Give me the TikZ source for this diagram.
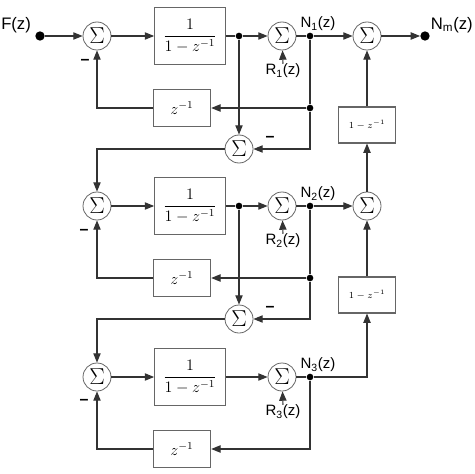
\documentclass[tikz,border=0pt]{standalone}
\usepackage[no-math]{fontspec}
\usepackage{amsmath}
\newfontfamily\lblfont{Liberation Sans}
\usetikzlibrary{arrows.meta, positioning}

\begin{document}
\begin{tikzpicture}[x=0.75pt,y=0.75pt,yscale=-1,xscale=1,
  line/.style={draw=black!80, line width=0.8pt},
  arr/.style={line, -{Triangle[length=7pt,width=5.5pt]}},
  sumnode/.style={circle, draw=black!60, line width=0.6pt, minimum size=21pt, inner sep=0pt, font=\fontsize{16}{16}\selectfont},
  fracbox/.style={rectangle, draw=black!60, line width=0.8pt, minimum width=53pt, minimum height=43pt, inner sep=0pt, font=\fontsize{12}{14}\selectfont},
  delaybox/.style={rectangle, draw=black!60, line width=0.8pt, minimum width=43pt, minimum height=28pt, inner sep=0pt, font=\fontsize{12}{14}\selectfont},
  diffbox/.style={rectangle, draw=black!60, line width=0.8pt, minimum width=43pt, minimum height=27pt, inner sep=0pt, font=\fontsize{7.5}{9}\selectfont},
  junc/.style={circle, fill=black, inner sep=0pt, minimum size=5pt},
  bigdot/.style={circle, fill=black, inner sep=0pt, minimum size=7pt},
  lbl/.style={font=\lblfont\fontsize{11.25}{13}\selectfont, inner sep=0pt},
  iolbl/.style={font=\lblfont\fontsize{12.5}{15}\selectfont, inner sep=0pt},
  minus/.style={font=\lblfont\bfseries\fontsize{12}{12}\selectfont, inner sep=0pt}
]
\useasboundingbox (0,0) rectangle (474,474);

%Input and output
\node [bigdot] (fin) at (40,36) {};
\node [bigdot] (fout) at (425,36) {};
\node [iolbl, anchor=west] (finlbl) at (1,25) {F(z)};
\node [iolbl, anchor=east] (foutlbl) at (473,25) {N\textsubscript{m}(z)};

%Stage 1
\node [sumnode] (s1) at (97,36) {$\Sigma$};
\node [fracbox] (b1) at (190,36) {$\dfrac{1}{1-z^{-1}}$};
\node [junc] (br1) at (239,36) {};
\node [sumnode] (rs1) at (282,36) {$\Sigma$};
\node [junc] (n1) at (310,36) {};
\node [junc] (fd1) at (310,108) {};
\node [delaybox] (d1) at (182,108) {$z^{-1}$};
\node [sumnode] (ms1) at (239,149) {$\Sigma$};
\node [lbl] (n1lbl) at (318,24) {N\textsubscript{1}(z)};
\node [lbl] (r1lbl) at (283,71) {R\textsubscript{1}(z)};

%Stage 2
\node [sumnode] (s2) at (97,206) {$\Sigma$};
\node [fracbox] (b2) at (190,206) {$\dfrac{1}{1-z^{-1}}$};
\node [junc] (br2) at (239,206) {};
\node [sumnode] (rs2) at (282,206) {$\Sigma$};
\node [junc] (n2) at (310,206) {};
\node [junc] (fd2) at (310,278) {};
\node [delaybox] (d2) at (182,278) {$z^{-1}$};
\node [sumnode] (ms2) at (239,319) {$\Sigma$};
\node [lbl] (n2lbl) at (318,194) {N\textsubscript{2}(z)};
\node [lbl] (r2lbl) at (283,241) {R\textsubscript{2}(z)};

%Stage 3
\node [sumnode] (s3) at (97,377) {$\Sigma$};
\node [fracbox] (b3) at (190,377) {$\dfrac{1}{1-z^{-1}}$};
\node [sumnode] (rs3) at (282,377) {$\Sigma$};
\node [junc] (n3) at (310,377) {};
\node [delaybox] (d3) at (182,449) {$z^{-1}$};
\node [lbl] (n3lbl) at (318,365) {N\textsubscript{3}(z)};
\node [lbl] (r3lbl) at (283,412) {R\textsubscript{3}(z)};

%Output chain
\node [sumnode] (os1) at (367,36) {$\Sigma$};
\node [sumnode] (os2) at (367,206) {$\Sigma$};
\node [diffbox] (ub) at (367,125) {$1-z^{-1}$};
\node [diffbox] (lb) at (367,295) {$1-z^{-1}$};

%Minus signs
\node [minus] (m1) at (85,62) {\textendash};
\node [minus] (m2) at (84,232) {\textendash};
\node [minus] (m3) at (84,402) {\textendash};
\node [minus] (mm1) at (270,139) {\textendash};
\node [minus] (mm2) at (270,309) {\textendash};

%Connections stage 1
\draw [arr] (fin) -- (s1);
\draw [arr] (s1) -- (b1);
\draw [line] (b1) -- (br1);
\draw [arr] (br1) -- (rs1);
\draw [line] (rs1) -- (n1);
\draw [arr] (n1) -- (os1);
\draw [arr] (os1) -- (fout);
\draw [arr] (r1lbl.north) -- (rs1);
\draw [line] (n1) -- (fd1);
\draw [arr] (fd1) -- (d1);
\draw [arr] (d1.west) -| (s1.south);
\draw [arr] (br1) -- (ms1);
\draw [arr] (fd1) |- (ms1.east);
\draw [arr] (ms1.west) -| (s2.north);

%Connections stage 2
\draw [arr] (s2) -- (b2);
\draw [line] (b2) -- (br2);
\draw [arr] (br2) -- (rs2);
\draw [line] (rs2) -- (n2);
\draw [arr] (n2) -- (os2);
\draw [arr] (r2lbl.north) -- (rs2);
\draw [line] (n2) -- (fd2);
\draw [arr] (fd2) -- (d2);
\draw [arr] (d2.west) -| (s2.south);
\draw [arr] (br2) -- (ms2);
\draw [arr] (fd2) |- (ms2.east);
\draw [arr] (ms2.west) -| (s3.north);

%Connections stage 3
\draw [arr] (s3) -- (b3);
\draw [arr] (b3) -- (rs3);
\draw [line] (rs3) -- (n3);
\draw [arr] (r3lbl.north) -- (rs3);
\draw [arr] (n3) |- (d3.east);
\draw [arr] (d3.west) -| (s3.south);

%Output chain
\draw [arr] (n3) -| (lb.south);
\draw [arr] (lb) -- (os2);
\draw [arr] (os2) -- (ub);
\draw [arr] (ub) -- (os1);

\end{tikzpicture}
\end{document}
